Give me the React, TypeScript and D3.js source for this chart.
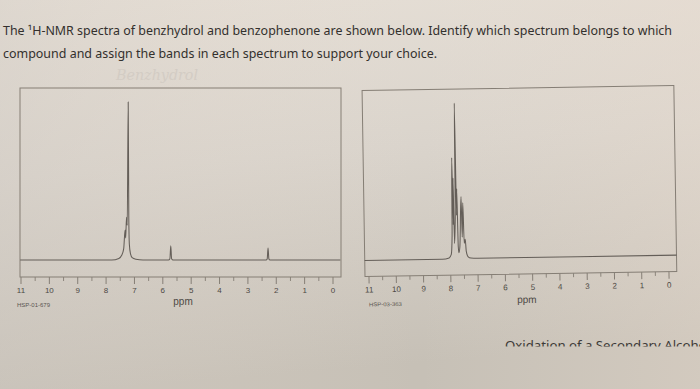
import React from "react";
import * as d3 from "d3";

// ---- data ----
const ppmTicks = [11, 10, 9, 8, 7, 6, 5, 4, 3, 2, 1, 0];
const ppmMinorTicks = [10.5, 9.5, 8.5, 7.5, 6.5, 5.5, 4.5, 3.5, 2.5, 1.5, 0.5];

// benzhydrol spectrum (left): [ppm, relative intensity]
const leftSpectrum: [number, number][] = [
  [11.03, 0], [7.8, 0], [7.55, 1], [7.45, 3], [7.38, 7], [7.33, 19], [7.31, 14],
  [7.28, 27], [7.255, 22], [7.22, 100], [7.2, 28], [7.18, 10], [7.14, 4],
  [7.08, 1.5], [6.95, 0.5], [6.7, 0], [5.8, 0], [5.75, 0.8], [5.72, 9],
  [5.69, 0.8], [5.64, 0], [2.36, 0], [2.32, 0.7], [2.29, 7.6], [2.26, 0.7],
  [2.22, 0], [-0.26, 0],
];

// benzophenone spectrum (right): [ppm, relative intensity]
const rightSpectrum: [number, number][] = [
  [11.15, 0], [8.3, 0], [8.05, 0.8], [7.97, 3], [7.93, 15], [7.9, 65],
  [7.88, 22], [7.865, 52], [7.845, 10], [7.82, 18], [7.8, 30], [7.775, 100],
  [7.755, 28], [7.735, 45], [7.71, 8], [7.69, 4], [7.65, 8], [7.58, 40],
  [7.56, 14], [7.52, 36], [7.49, 10], [7.45, 12.5], [7.42, 5], [7.36, 1.5],
  [7.25, 0.5], [7.0, 0.3], [-0.29, 0.3],
];

const questionLines = [
  "The \u00b9H-NMR spectra of benzhydrol and benzophenone are shown below.  Identify which spectrum belongs to which",
  "compound and assign the bands in each spectrum to support your choice.",
];
const leftCode = "HSP-01-679";
const rightCode = "HSP-03-363";
const axisTitle = "ppm";
const pencilNote = "Benzhydrol";
const footerText = "Oxidation of a Secondary Alcohol";

type PanelCfg = {
  data: [number, number][];
  x0: number;
  x11: number;
  boxL: number;
  boxR: number;
  top: number;
  bottom: number;
  base: number;
  tip: number;
  code: string;
  codeX: number;
  codeY: number;
  ppmX: number;
  ppmY: number;
  transform?: string;
};

const LINE = "#645e58";
const BOX = "#857e75";
const TXT = "#4d4944";

function Panel({ cfg }: { cfg: PanelCfg }) {
  const x = d3.scaleLinear().domain([11, 0]).range([cfg.x0, cfg.x11]);
  const y = d3.scaleLinear().domain([0, 100]).range([cfg.base, cfg.tip]);
  const line = d3
    .line<[number, number]>()
    .x((d) => x(d[0]))
    .y((d) => y(d[1]))
    .curve(d3.curveMonotoneX);
  const tb = cfg.bottom;
  return (
    <g transform={cfg.transform}>
      <rect
        x={cfg.boxL}
        y={cfg.top}
        width={cfg.boxR - cfg.boxL}
        height={cfg.bottom - cfg.top}
        fill="none"
        stroke={BOX}
        strokeWidth={1}
      />
      <path d={line(cfg.data) || ""} fill="none" stroke={LINE} strokeWidth={1.05} />
      {ppmTicks.map((t) => (
        <g key={"M" + t}>
          <line x1={x(t)} x2={x(t)} y1={tb} y2={tb + 7} stroke={BOX} strokeWidth={1} />
          <text
            x={x(t)}
            y={tb + 16}
            textAnchor="middle"
            fontSize={8}
            fontFamily="Liberation Sans, Arial, sans-serif"
            fill={TXT}
          >
            {t}
          </text>
        </g>
      ))}
      {ppmMinorTicks.map((t) => (
        <line key={"m" + t} x1={x(t)} x2={x(t)} y1={tb} y2={tb + 4} stroke={BOX} strokeWidth={0.9} />
      ))}
      <text
        x={cfg.ppmX}
        y={cfg.ppmY}
        textAnchor="middle"
        fontSize={10}
        fontFamily="Liberation Sans, Arial, sans-serif"
        fill={TXT}
      >
        {axisTitle}
      </text>
      <text
        x={cfg.codeX}
        y={cfg.codeY}
        fontSize={5.5}
        textLength={33}
        lengthAdjust="spacingAndGlyphs"
        fontFamily="Liberation Sans, Arial, sans-serif"
        fill="#5a5550"
      >
        {cfg.code}
      </text>
    </g>
  );
}

export default function App() {
  const W = 700;
  const H = 389;
  const left: PanelCfg = {
    data: leftSpectrum,
    x0: 21,
    x11: 333,
    boxL: 20,
    boxR: 341,
    top: 88,
    bottom: 277,
    base: 260,
    tip: 102,
    code: leftCode,
    codeX: 17,
    codeY: 307,
    ppmX: 183,
    ppmY: 305,
  };
  const right: PanelCfg = {
    data: rightSpectrum,
    x0: 367.5,
    x11: 667.5,
    boxL: 363.5,
    boxR: 675.3,
    top: 88,
    bottom: 274,
    base: 258,
    tip: 102,
    code: rightCode,
    codeX: 367,
    codeY: 304,
    ppmX: 525,
    ppmY: 303,
    transform: "rotate(-0.9 522 180)",
  };
  return (
    <svg
      width={W}
      height={H}
      viewBox={`0 0 ${W} ${H}`}
      style={{ position: "fixed", left: 0, top: 0, display: "block" }}
    >
      <defs>
        <linearGradient id="paper" x1="0" y1="0" x2="0.15" y2="1">
          <stop offset="0" stopColor="#e6dfd6" />
          <stop offset="0.45" stopColor="#dad4cc" />
          <stop offset="1" stopColor="#c6c0b6" />
        </linearGradient>
        <linearGradient id="tint" x1="0" y1="0" x2="1" y2="0">
          <stop offset="0" stopColor="#cfc9c2" stopOpacity={0.35} />
          <stop offset="0.6" stopColor="#e8dcd0" stopOpacity={0} />
          <stop offset="1" stopColor="#eadccf" stopOpacity={0.35} />
        </linearGradient>
        <clipPath id="footclip">
          <rect x={0} y={0} width={W} height={346.5} />
        </clipPath>
      </defs>
      <rect x={0} y={0} width={W} height={H} fill="url(#paper)" />
      <rect x={0} y={0} width={W} height={H} fill="url(#tint)" />

      <text
        x={3}
        y={35}
        fontSize={12.5}
        textLength={669}
        lengthAdjust="spacingAndGlyphs"
        fontFamily="Noto Sans, Open Sans, sans-serif"
        fill="#33302d"
      >
        {questionLines[0]}
      </text>
      <text
        x={3}
        y={58}
        fontSize={12.5}
        textLength={434}
        lengthAdjust="spacingAndGlyphs"
        fontFamily="Noto Sans, Open Sans, sans-serif"
        fill="#33302d"
      >
        {questionLines[1]}
      </text>

      <text
        x={116}
        y={80}
        fontSize={15}
        textLength={82}
        lengthAdjust="spacingAndGlyphs"
        fontStyle="italic"
        fontFamily="DejaVu Serif, serif"
        fill="#d3ccc4"
      >
        {pencilNote}
      </text>

      <Panel cfg={left} />
      <Panel cfg={right} />

      <g clipPath="url(#footclip)">
        <text
          x={505}
          y={350}
          fontSize={12.5}
          textLength={205}
          lengthAdjust="spacingAndGlyphs"
          fontFamily="Noto Sans, Open Sans, sans-serif"
          fill="#3d3a37"
        >
          {footerText}
        </text>
      </g>
    </svg>
  );
}
